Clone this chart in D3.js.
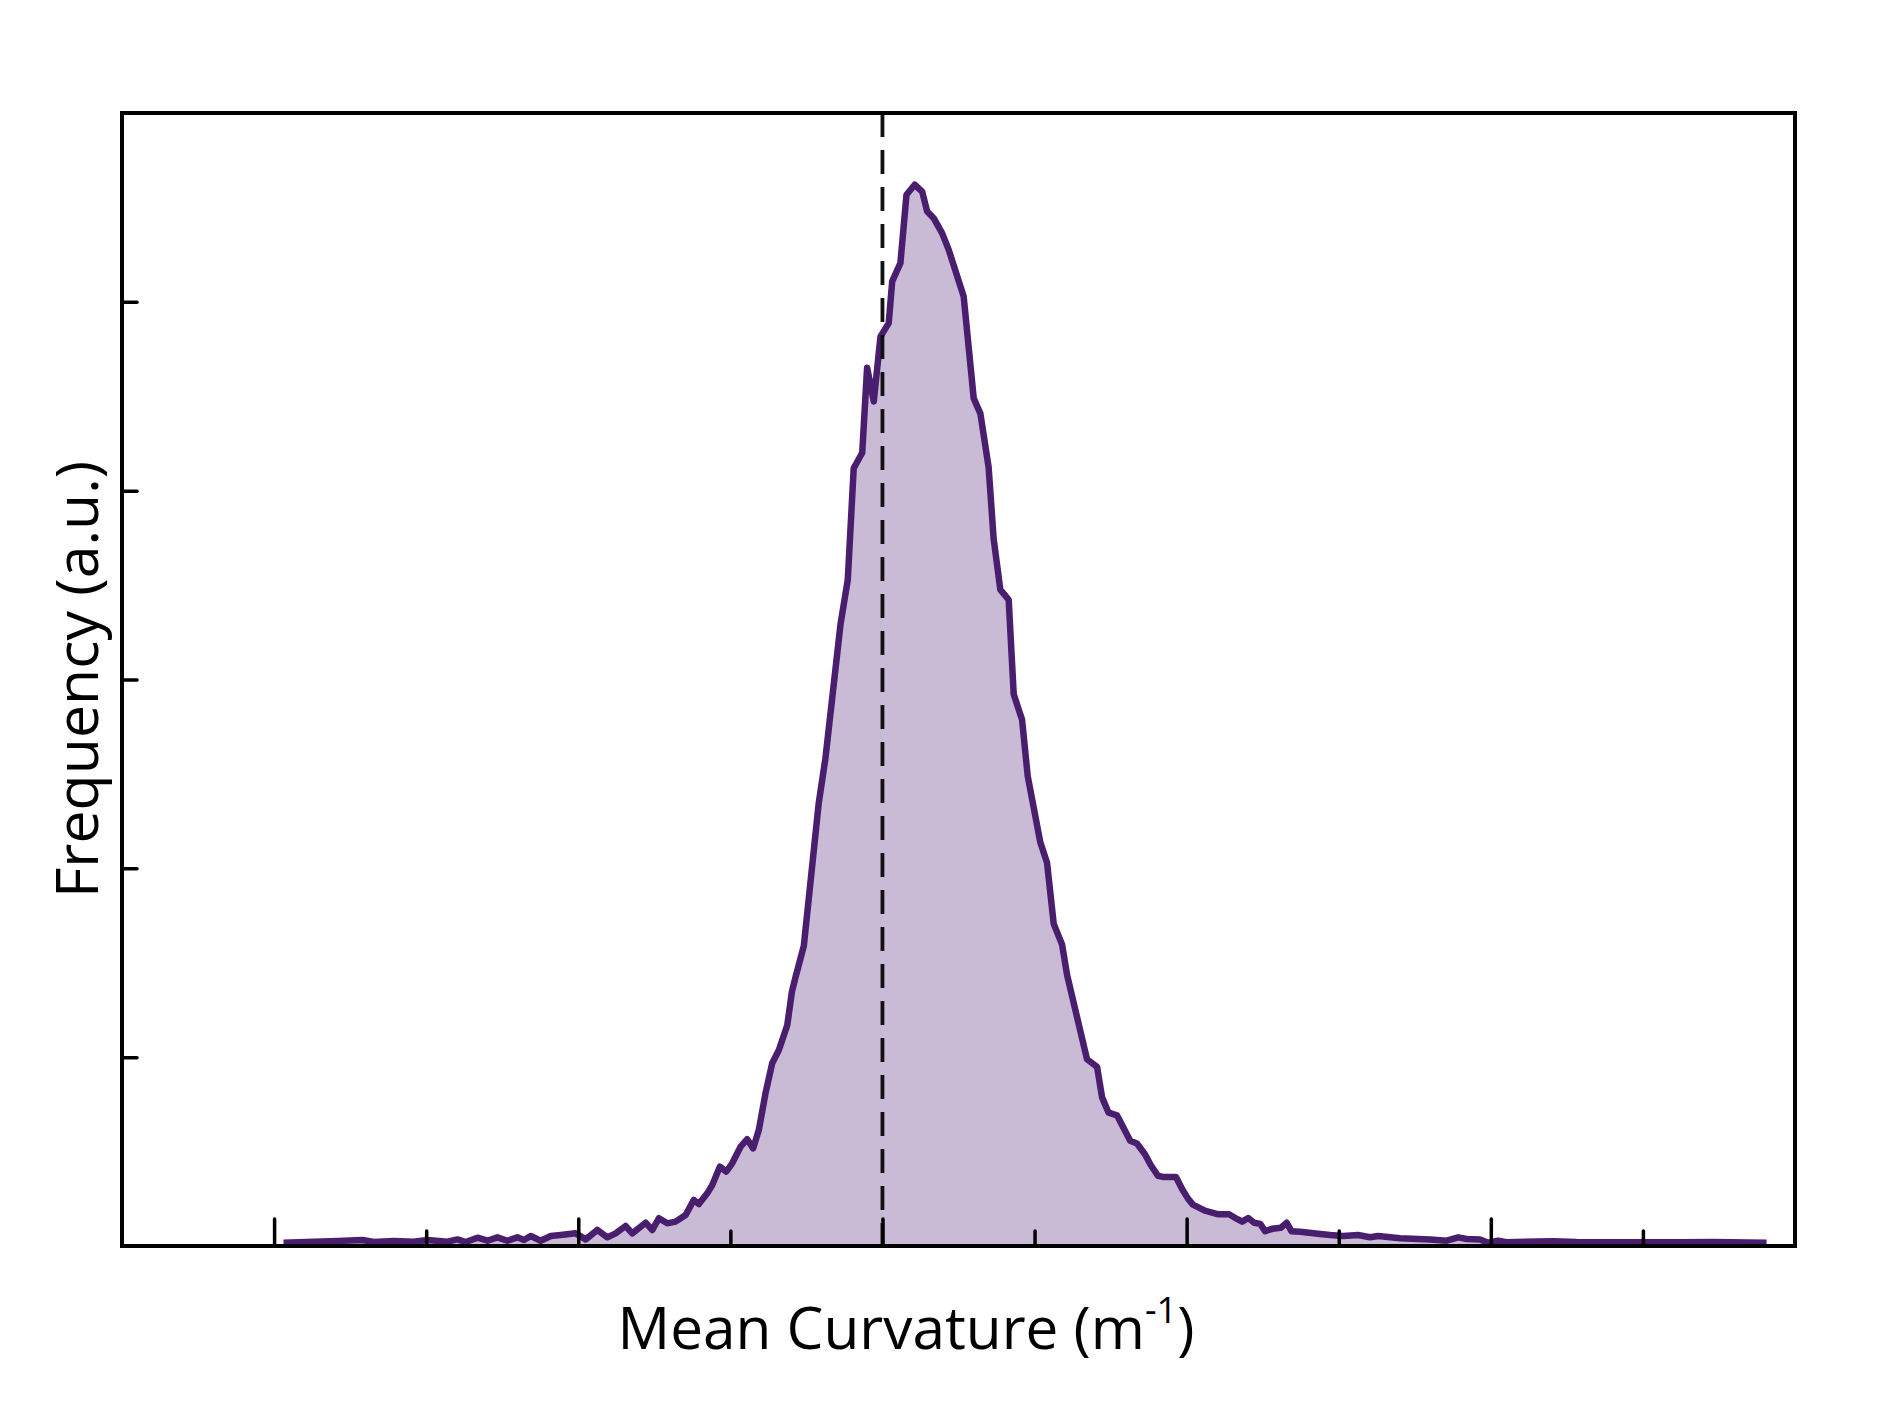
<!DOCTYPE html>
<html>
<head>
<meta charset="utf-8">
<script src="https://cdn.jsdelivr.net/npm/d3@7"></script>
<style>
  body { margin: 0; background: #fff; }
  text { font-family: "Open Sans", "Noto Sans", sans-serif; }
</style>
</head>
<body>
<div id="chart"></div>
<script>
// curve: mean curvature (x) vs frequency (y, a.u.)
var curvX = [-3.938, -3.583, -3.419, -3.344, -3.213, -3.081, -2.991, -2.860, -2.794, -2.740,
  -2.663, -2.597, -2.532, -2.466, -2.400, -2.357, -2.313, -2.247, -2.181, -2.116,
  -2.017, -1.951, -1.875, -1.809, -1.754, -1.689, -1.645, -1.557, -1.513, -1.470,
  -1.415, -1.360, -1.294, -1.240, -1.207, -1.152, -1.119, -1.069, -1.027, -0.988,
  -0.933, -0.889, -0.850, -0.813, -0.769, -0.725, -0.681, -0.626, -0.595, -0.571,
  -0.517, -0.419, -0.375, -0.276, -0.228, -0.189, -0.133, -0.101, -0.057, -0.013,
  0.041, 0.064, 0.118, 0.158, 0.212, 0.261, 0.294, 0.337, 0.392, 0.436,
  0.534, 0.600, 0.644, 0.698, 0.731, 0.775, 0.830, 0.863, 0.918, 0.955,
  1.038, 1.082, 1.126, 1.181, 1.214, 1.345, 1.411, 1.444, 1.487, 1.542,
  1.629, 1.673, 1.725, 1.764, 1.811, 1.851, 1.930, 1.970, 2.009, 2.041,
  2.120, 2.208, 2.279, 2.334, 2.365, 2.405, 2.444, 2.484, 2.516, 2.562,
  2.619, 2.658, 2.690, 2.746, 2.878, 2.943, 3.029, 3.127, 3.206, 3.259,
  3.403, 3.600, 3.710, 3.786, 3.842, 3.929, 3.982, 4.047, 4.104, 4.409,
  4.564, 4.934, 5.243, 5.460, 5.813];
var curvY = [0.017, 0.026, 0.032, 0.021, 0.026, 0.023, 0.032, 0.023, 0.035, 0.021,
  0.044, 0.028, 0.046, 0.028, 0.046, 0.032, 0.053, 0.028, 0.053, 0.058,
  0.067, 0.035, 0.085, 0.046, 0.067, 0.106, 0.067, 0.123, 0.085, 0.147,
  0.120, 0.129, 0.164, 0.244, 0.222, 0.279, 0.323, 0.420, 0.394, 0.438,
  0.526, 0.565, 0.517, 0.614, 0.809, 0.968, 1.038, 1.169, 1.348, 1.425,
  1.589, 2.345, 2.582, 3.291, 3.528, 4.119, 4.201, 4.651, 4.473, 4.816,
  4.887, 5.108, 5.205, 5.567, 5.620, 5.584, 5.478, 5.443, 5.364, 5.275,
  5.028, 4.489, 4.408, 4.124, 3.746, 3.476, 3.422, 2.922, 2.787, 2.489,
  2.138, 2.030, 1.706, 1.597, 1.435, 0.989, 0.949, 0.787, 0.706, 0.692,
  0.557, 0.543, 0.487, 0.429, 0.372, 0.365, 0.365, 0.302, 0.251, 0.219,
  0.187, 0.168, 0.168, 0.142, 0.129, 0.148, 0.123, 0.117, 0.078, 0.091,
  0.097, 0.123, 0.078, 0.076, 0.064, 0.058, 0.053, 0.058, 0.046, 0.053,
  0.041, 0.035, 0.028, 0.046, 0.037, 0.035, 0.017, 0.028, 0.020, 0.025,
  0.021, 0.020, 0.020, 0.021, 0.017];

var xMajor = [-4, -2, 0, 2, 4];
var xMinor = [-3, -1, 1, 3, 5];
var yTicks = [1, 2, 3, 4, 5];
var meanLine = 0;

var svgWidth = 1889, svgHeight = 1417;
var margin = { top: 113, right: 94, bottom: 171, left: 122 };

var svg = d3.select("#chart").append("svg")
    .attr("width", svgWidth)
    .attr("height", svgHeight);

var x = d3.scaleLinear().domain([-5, 6]).range([margin.left, svgWidth - margin.right]);
var y = d3.scaleLinear().domain([0, 6]).range([svgHeight - margin.bottom, margin.top]);

var pts = curvX.map(function (d, i) { return [d, curvY[i]]; });

// filled area under the curve
var area = d3.area()
    .x(function (d) { return x(d[0]); })
    .y0(y(0))
    .y1(function (d) { return y(d[1]); });
svg.append("path")
    .datum(pts)
    .attr("d", area)
    .attr("fill", "#c9bbd5");

var line = d3.line()
    .x(function (d) { return x(d[0]); })
    .y(function (d) { return y(d[1]); });
svg.append("path")
    .datum(pts)
    .attr("d", line)
    .attr("fill", "none")
    .attr("stroke", "#4a1e6e")
    .attr("stroke-width", 6.5)
    .attr("stroke-linejoin", "round");

// dashed line at zero
svg.append("line")
    .attr("x1", x(meanLine)).attr("x2", x(meanLine))
    .attr("y1", y(6)).attr("y2", y(0))
    .attr("stroke", "#111")
    .attr("stroke-width", 3.8)
    .attr("stroke-dasharray", "24,13");

// ticks (inward, no labels)
var gx1 = svg.append("g")
    .attr("transform", "translate(0," + y(0) + ")")
    .call(d3.axisBottom(x).tickValues(xMajor).tickSize(-27).tickFormat(""));
var gx2 = svg.append("g")
    .attr("transform", "translate(0," + y(0) + ")")
    .call(d3.axisBottom(x).tickValues(xMinor).tickSize(-15).tickFormat(""));
var gy = svg.append("g")
    .attr("transform", "translate(" + x(-5) + ",0)")
    .call(d3.axisLeft(y).tickValues(yTicks).tickSize(-15).tickFormat(""));
[gx1, gx2, gy].forEach(function (g) {
    g.select(".domain").remove();
    g.selectAll(".tick line").attr("stroke", "#000").attr("stroke-width", 3.5).attr("stroke-linecap", "round");
});

// frame
svg.append("rect")
    .attr("x", x(-5)).attr("y", y(6))
    .attr("width", x(6) - x(-5)).attr("height", y(0) - y(6))
    .attr("fill", "none")
    .attr("stroke", "#000")
    .attr("stroke-width", 4);

// axis labels
var xl = svg.append("text")
    .attr("x", 906)
    .attr("y", 1349)
    .attr("text-anchor", "middle")
    .attr("font-size", 58.5)
    .attr("fill", "#000");
xl.append("tspan").text("Mean Curvature (m");
xl.append("tspan").attr("font-size", 36).attr("dy", -26).text("-1");
xl.append("tspan").attr("dy", 26).text(")");

svg.append("text")
    .attr("transform", "translate(98," + ((y(0) + y(6)) / 2) + ") rotate(-90)")
    .attr("text-anchor", "middle")
    .attr("font-size", 59)
    .attr("fill", "#000")
    .text("Frequency (a.u.)");
</script>
</body>
</html>
